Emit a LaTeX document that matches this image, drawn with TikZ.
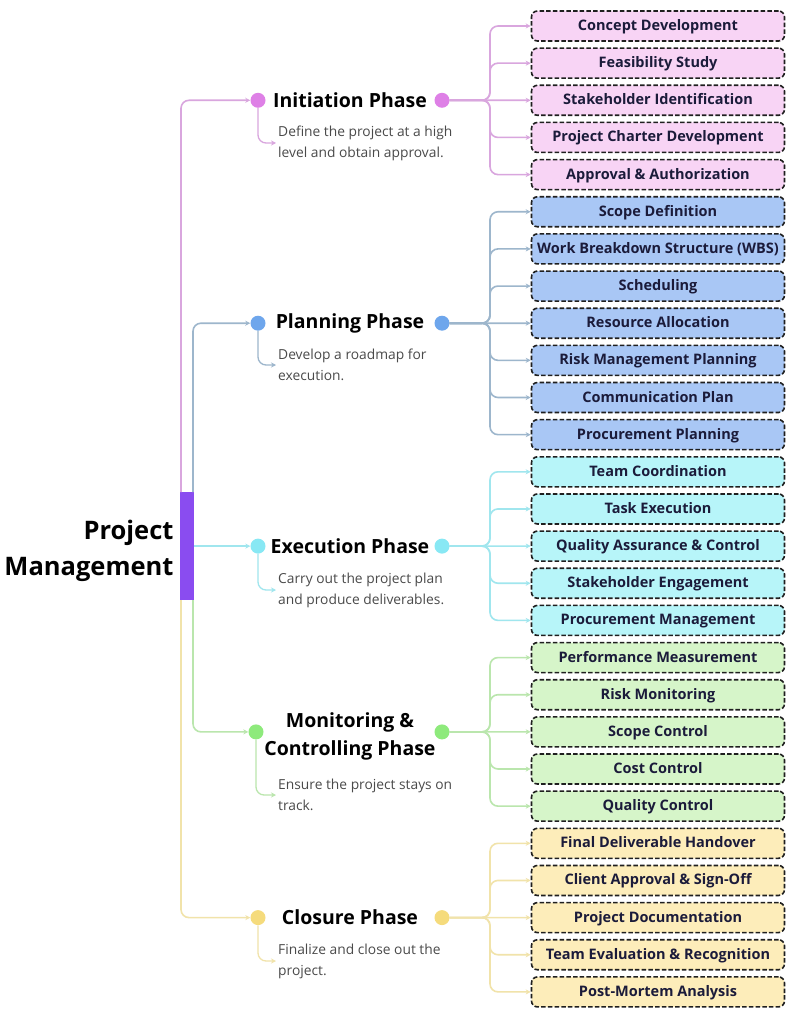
\documentclass[tikz,border=0pt]{standalone}
\usepackage{fontspec}
\setmainfont{Open Sans}
\usetikzlibrary{arrows.meta}
\definecolor{pkF}{HTML}{F8D4F5}
\definecolor{pkD}{HTML}{DE80E6}
\definecolor{pkL}{HTML}{D9A6DE}
\definecolor{blF}{HTML}{A9C7F5}
\definecolor{blD}{HTML}{6EA6EC}
\definecolor{blL}{HTML}{9DB6CC}
\definecolor{cyF}{HTML}{B7F5F9}
\definecolor{cyD}{HTML}{88E8F4}
\definecolor{cyL}{HTML}{A0E6EE}
\definecolor{grF}{HTML}{D6F5C9}
\definecolor{grD}{HTML}{8EEA7C}
\definecolor{grL}{HTML}{BAE6AD}
\definecolor{ylF}{HTML}{FDEDBA}
\definecolor{ylD}{HTML}{F5DB7C}
\definecolor{ylL}{HTML}{F1E3AA}
\definecolor{barC}{HTML}{8A4CF0}
\definecolor{boxT}{HTML}{1B1B3A}
\definecolor{descT}{HTML}{4A4A4A}
\begin{document}
\begin{tikzpicture}[x=1pt,y=-1pt,
  box/.style={draw=black!88, dash pattern=on 4.5pt off 2.2pt, line width=1.6pt, rounded corners=6pt,
    minimum width=253pt, minimum height=30pt, inner sep=0pt, text=boxT,
    text height=12pt, text depth=3pt,
    font=\bfseries\fontsize{14.5}{16}\selectfont},
  dot/.style={circle, minimum size=15pt, inner sep=0pt},
  conn/.style={line width=1.6pt, rounded corners=8pt, -{Stealth[length=5pt,width=5pt]}},
  title/.style={font=\bfseries\fontsize{19.5}{28}\selectfont, text=black, align=center},
  desc/.style={font=\fontsize{13.8}{21}\selectfont, text=descT, align=left, anchor=west, inner sep=2pt},
]
\useasboundingbox[fill=white] (0,0) rectangle (803,1024);

% ---------- boxes ----------
\foreach \t [count=\i from 0] in {Concept Development, Feasibility Study, Stakeholder Identification, Project Charter Development, Approval \& Authorization}{
  \pgfmathsetmacro\yy{26+37.15*\i}
  \node[box, fill=pkF] (bx\i) at (658,\yy) {\t};
}
\foreach \t [count=\i from 5] in {Scope Definition, Work Breakdown Structure (WBS), Scheduling, Resource Allocation, Risk Management Planning, Communication Plan, Procurement Planning}{
  \pgfmathsetmacro\yy{26+37.15*\i}
  \node[box, fill=blF] (bx\i) at (658,\yy) {\t};
}
\foreach \t [count=\i from 12] in {Team Coordination, Task Execution, Quality Assurance \& Control, Stakeholder Engagement, Procurement Management}{
  \pgfmathsetmacro\yy{26+37.15*\i}
  \node[box, fill=cyF] (bx\i) at (658,\yy) {\t};
}
\foreach \t [count=\i from 17] in {Performance Measurement, Risk Monitoring, Scope Control, Cost Control, Quality Control}{
  \pgfmathsetmacro\yy{26+37.15*\i}
  \node[box, fill=grF] (bx\i) at (658,\yy) {\t};
}
\foreach \t [count=\i from 22] in {Final Deliverable Handover, Client Approval \& Sign-Off, Project Documentation, Team Evaluation \& Recognition, Post-Mortem Analysis}{
  \pgfmathsetmacro\yy{26+37.15*\i}
  \node[box, fill=ylF] (bx\i) at (658,\yy) {\t};
}

% ---------- phases ----------
\node[dot, fill=pkD] (inL) at (258,100.3) {};
\node[dot, fill=pkD] (inR) at (442,100.3) {};
\node[title] (inT) at (350,100.3) {Initiation Phase};
\node[desc] (inD) at (276,143) {Define the project at a high\\level and obtain approval.};

\node[dot, fill=blD] (plL) at (258,323.2) {};
\node[dot, fill=blD] (plR) at (442,323.2) {};
\node[title] (plT) at (350,323.2) {Planning Phase};
\node[desc] (plD) at (276,365) {Develop a roadmap for\\execution.};

\node[dot, fill=cyD] (exL) at (258,546.1) {};
\node[dot, fill=cyD] (exR) at (442,546.1) {};
\node[title] (exT) at (350,546.1) {Execution Phase};
\node[desc] (exD) at (276,590) {Carry out the project plan\\and produce deliverables.};

\node[dot, fill=grD] (moL) at (256,731.9) {};
\node[dot, fill=grD] (moR) at (442,731.9) {};
\node[title] (moT) at (350,736) {Monitoring \&\\Controlling Phase};
\node[desc] (moD) at (276,795) {Ensure the project stays on\\track.};

\node[dot, fill=ylD] (clL) at (258,917.6) {};
\node[dot, fill=ylD] (clR) at (442,917.6) {};
\node[title] (clT) at (350,917.6) {Closure Phase};
\node[desc] (clD) at (276,961) {Finalize and close out the\\project.};

% ---------- root ----------
\node[fill=barC, minimum width=14pt, minimum height=108pt, inner sep=0pt] (bar) at (187,546) {};
\node[font=\bfseries\fontsize{25.5}{36}\selectfont, align=right, anchor=east] (root) at (177,551) {Project\\Management};

\coordinate (pkS) at (181,492);
\coordinate (blS) at (193,492);
\coordinate (grS) at (193,600);
\coordinate (ylS) at (181,600);
\draw[conn, draw=pkL] (pkS) |- (inL);
\draw[conn, draw=blL] (blS) |- (plL);
\draw[conn, draw=cyL] (bar.east |- exL) -- (exL);
\draw[conn, draw=grL] (grS) |- (moL);
\draw[conn, draw=ylL] (ylS) |- (clL);

% ---------- description arrows ----------
\draw[conn, draw=pkL, line width=1.3pt] (inL) |- (inD.west);
\draw[conn, draw=blL, line width=1.3pt] (plL) |- (plD.west);
\draw[conn, draw=cyL, line width=1.3pt] (exL) |- (exD.west);
\draw[conn, draw=grL, line width=1.3pt] (moL) |- (moD.west);
\draw[conn, draw=ylL, line width=1.3pt] (clL) |- (clD.west);

% ---------- branch connectors ----------
\foreach \i in {0,1,3,4}{\draw[conn, draw=pkL] (inR) -- (490,100.3) |- (bx\i.west);}
\draw[conn, draw=pkL] (inR) -- (bx2.west);
\foreach \i in {5,6,7,9,10,11}{\draw[conn, draw=blL] (plR) -- (490,323.2) |- (bx\i.west);}
\draw[conn, draw=blL] (plR) -- (bx8.west);
\foreach \i in {12,13,15,16}{\draw[conn, draw=cyL] (exR) -- (490,546.1) |- (bx\i.west);}
\draw[conn, draw=cyL] (exR) -- (bx14.west);
\foreach \i in {17,18,20,21}{\draw[conn, draw=grL] (moR) -- (490,731.9) |- (bx\i.west);}
\draw[conn, draw=grL] (moR) -- (bx19.west);
\foreach \i in {22,23,25,26}{\draw[conn, draw=ylL] (clR) -- (490,917.6) |- (bx\i.west);}
\draw[conn, draw=ylL] (clR) -- (bx24.west);
\end{tikzpicture}
\end{document}
